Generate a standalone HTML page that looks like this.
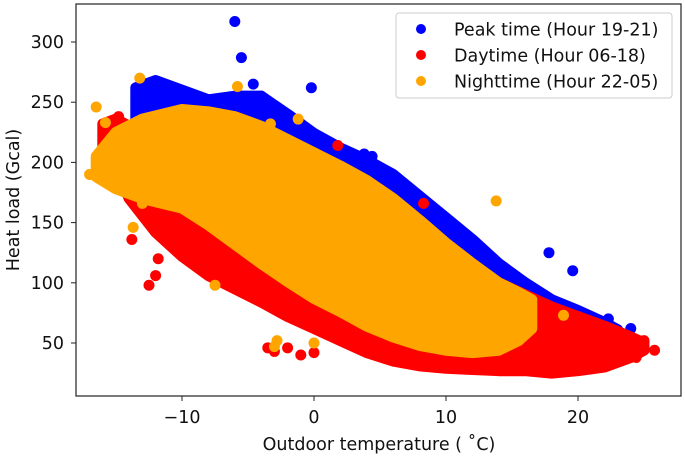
<!DOCTYPE html>
<html><head><meta charset="utf-8">
<style>
html,body{margin:0;padding:0;background:#fff;}
svg{display:block;font-family:"DejaVu Sans","Liberation Sans",sans-serif;}
</style></head>
<body>
<svg id="chart" width="685" height="456" viewBox="0 0 685 456">
<g id="plot"></g>
<rect x="76" y="4" width="605" height="392" fill="none" stroke="#222" stroke-width="1.2"/>
<g id="axes"></g>
<text x="379" y="450" font-size="17.5" text-anchor="middle" fill="#111">Outdoor temperature ( ˚C)</text>
<text transform="translate(19,200) rotate(-90)" font-size="17.5" text-anchor="middle" fill="#111">Heat load (Gcal)</text>
<g>
<rect x="396" y="13" width="276" height="85" rx="3" fill="#fff" fill-opacity="0.8" stroke="#ccc"/>
<g><circle cx="421" cy="29" r="5" fill="#0000ff"/><text x="454" y="35.5" font-size="17.5" fill="#111">Peak time (Hour 19-21)</text></g>
<g><circle cx="421" cy="55" r="5" fill="#ff0000"/><text x="454" y="61.5" font-size="17.5" fill="#111">Daytime (Hour 06-18)</text></g>
<g><circle cx="421" cy="81" r="5" fill="#ffa500"/><text x="454" y="87.5" font-size="17.5" fill="#111">Nighttime (Hour 22-05)</text></g>
</g>
</svg>
<script>
// Band envelopes (temperature °C, heat load Gcal)
const peakTemps  = [-13.5,-12,-10,-8,-6,-4,-2,0,2,4,6,8,10,12,14,16,18,20,22,23];
const peakUpper  = [262,268,260,252,255,255,240,224,212,202,190,172,154,136,116,100,86,77,67,61];
const peakLower  = [220,200,180,160,140,125,110,95,85,75,65,58,52,48,46,50,55,60,55,52];

const dayTemps   = [-16,-15,-14,-12,-10,-8,-6,-4,-2,0,2,4,6,8,10,12,14,16,18,20,22,24,25];
const dayUpper   = [232,236,230,228,235,235,232,228,218,208,196,184,168,150,132,115,100,90,80,72,64,55,50];
const dayLower   = [200,195,170,142,122,106,95,84,72,62,52,42,35,31,29,28,27,27,25,27,30,38,44];

const nightTemps = [-16.5,-15,-13,-10,-8,-6,-4,-2,0,2,4,6,8,10,12,14,15.5,16.5];
const nightUpper = [205,225,236,244,242,238,230,219,208,197,185,170,152,133,116,100,92,86];
const nightLower = [188,178,170,162,148,132,116,101,87,76,64,55,48,44,42,44,52,62];

// Outlier points
const peakPtsX  = [-6,-5.5,-0.2,-4,-4.6,17.8,19.6,24,23.4,22.3,-1,4.4,3.8,6.2];
const peakPtsY  = [317,287,262,255,265,125,110,62,44,70,232,205,207,188];
const dayPtsX   = [-15.8,-12.5,-12,-13.8,-11.8,-3,-1,0,-3.5,-2,1.8,8.3,25,24.4,25.8,-14.8,-15.3,-11];
const dayPtsY   = [232,98,106,136,120,43,40,42,46,46,214,166,52,38,44,238,200,150];
const nightPtsX = [-16.5,-17,-15.8,-13.2,-3,-2.8,-13.7,0,18.9,-13,-5.8,13.8,-7.5,-1.2,-3.3];
const nightPtsY = [246,190,233,270,47,52,146,50,73,166,263,168,98,236,232];

const xTicks = [-10,0,10,20];
const yTicks = [50,100,150,200,250,300];

function sx(t){ return 314 + (t)*13.2; }
function sy(v){ return 343 - (v-50)*1.204; }

const NS='http://www.w3.org/2000/svg';
const plot=document.getElementById('plot');
const axes=document.getElementById('axes');

function band(temps,up,lo,color,name){
  let pts=[];
  for(let i=0;i<temps.length;i++) pts.push(sx(temps[i])+','+sy(up[i]));
  for(let i=temps.length-1;i>=0;i--) pts.push(sx(temps[i])+','+sy(lo[i]));
  const p=document.createElementNS(NS,'polygon');
  p.setAttribute('points',pts.join(' '));
  p.setAttribute('fill',color);
  p.setAttribute('stroke',color);
  p.setAttribute('stroke-width','11');
  p.setAttribute('stroke-linejoin','round');
  
  
  plot.appendChild(p);
}
function dots(xs,ys,color,name){
  for(let i=0;i<xs.length;i++){
    const c=document.createElementNS(NS,'circle');
    c.setAttribute('cx',sx(xs[i]));c.setAttribute('cy',sy(ys[i]));
    c.setAttribute('r','5.5');c.setAttribute('fill',color);
    
    
    plot.appendChild(c);
  }
}
band(peakTemps,peakUpper,peakLower,'#0000ff','peak-time-cloud');
dots(peakPtsX,peakPtsY,'#0000ff','peak-time-point');
band(dayTemps,dayUpper,dayLower,'#ff0000','daytime-cloud');
dots(dayPtsX,dayPtsY,'#ff0000','daytime-point');
band(nightTemps,nightUpper,nightLower,'#ffa500','nighttime-cloud');
dots(nightPtsX,nightPtsY,'#ffa500','nighttime-point');

xTicks.forEach(t=>{
  const l=document.createElementNS(NS,'line');
  l.setAttribute('x1',sx(t));l.setAttribute('x2',sx(t));
  l.setAttribute('y1',396);l.setAttribute('y2',401);
  l.setAttribute('stroke','#222');
  
  
  axes.appendChild(l);
  const tx=document.createElementNS(NS,'text');
  tx.setAttribute('x',sx(t));tx.setAttribute('y',423);
  tx.setAttribute('font-size','17.5');tx.setAttribute('text-anchor','middle');tx.setAttribute('fill','#111');
  tx.textContent=t<0?'\u2212'+Math.abs(t):String(t);
  
  
  axes.appendChild(tx);
});
yTicks.forEach(v=>{
  const l=document.createElementNS(NS,'line');
  l.setAttribute('x1',71);l.setAttribute('x2',76);
  l.setAttribute('y1',sy(v));l.setAttribute('y2',sy(v));
  l.setAttribute('stroke','#222');
  
  
  axes.appendChild(l);
  const tx=document.createElementNS(NS,'text');
  tx.setAttribute('x',64);tx.setAttribute('y',sy(v)+6);
  tx.setAttribute('font-size','17.5');tx.setAttribute('text-anchor','end');tx.setAttribute('fill','#111');
  tx.textContent=String(v);
  
  
  axes.appendChild(tx);
});
</script>
</body></html>
